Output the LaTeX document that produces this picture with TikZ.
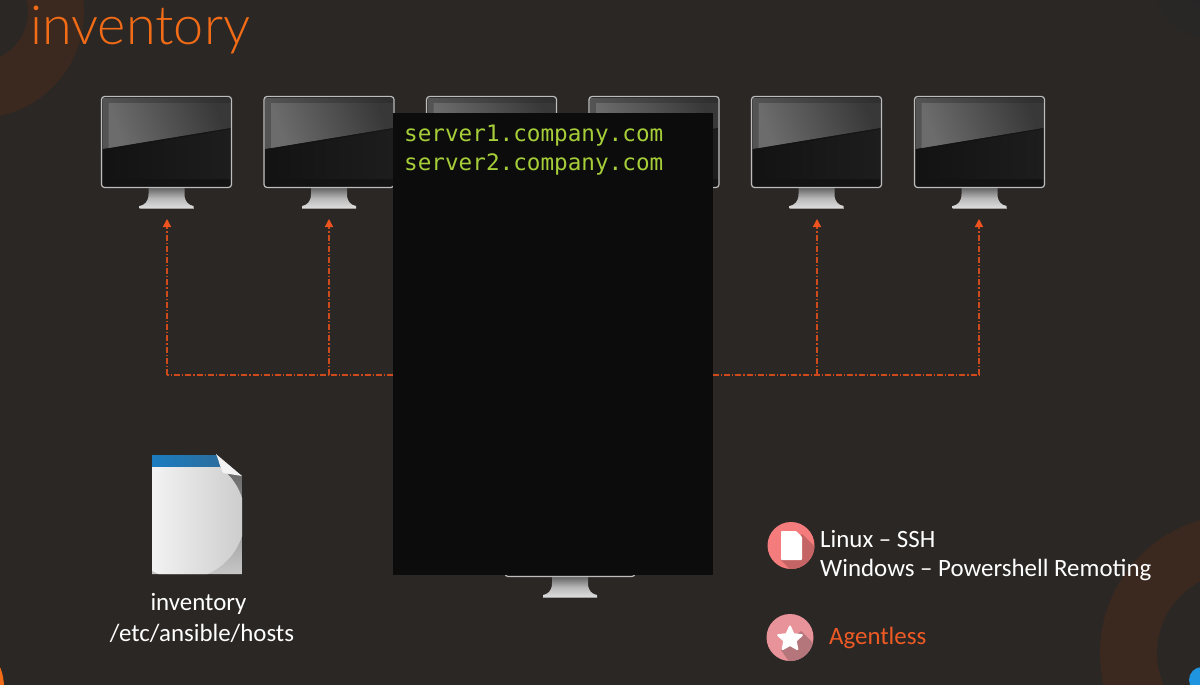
\documentclass[tikz,border=0pt]{standalone}
\usepackage{fontspec}
\setmainfont{Carlito}
\newfontfamily\termfont{DejaVu Sans Mono}
\newfontfamily\titlefont{Lato}[UprightFont=* Light]
\usetikzlibrary{arrows.meta,shapes.geometric,calc}
\definecolor{bgc}{HTML}{2B2725}
\definecolor{ringc}{HTML}{3B291F}
\definecolor{orangec}{HTML}{F26B16}
\definecolor{linec}{HTML}{CC4A1C}
\definecolor{tipc}{HTML}{F0541E}
\definecolor{termc}{HTML}{0C0C0C}
\definecolor{greenc}{HTML}{A6CE39}
\definecolor{agentc}{HTML}{EE5A24}
\definecolor{glareA}{HTML}{6C6C6C}
\definecolor{glareB}{HTML}{383838}
\definecolor{glareC}{HTML}{545454}
\definecolor{glareD}{HTML}{303030}
\definecolor{scrA}{HTML}{131313}
\definecolor{scrB}{HTML}{1D1D1D}
\definecolor{docbadge}{HTML}{F47C7C}
\definecolor{docshadow}{HTML}{C56464}
\definecolor{starbadge}{HTML}{E8929A}
\definecolor{starshadow}{HTML}{B5767B}
\definecolor{bluetab}{HTML}{1C7CC0}
\definecolor{bluetabB}{HTML}{2A6E9E}
\definecolor{dotblue}{HTML}{1F95DF}
\tikzset{
  x=1pt,y=-1pt,
  screenbox/.style={draw=white!74!black,line width=1.2pt,rounded corners=3pt,minimum width=130pt,minimum height=91pt,inner sep=0pt,outer sep=0pt},
  bus/.style={draw=linec,color=linec,line width=1.2pt,dash pattern=on 6pt off 2pt on 1.2pt off 2pt},
  tiparrow/.style={bus,-{Triangle[length=8pt,width=8pt,fill=tipc,color=tipc,sep=0pt]}},
  badge/.style={circle,minimum size=47pt,inner sep=0pt},
  sanslabel/.style={font=\fontsize{24.9}{31}\selectfont,inner sep=0pt},
  termline/.style={anchor=base west,inner sep=0pt,text=greenc,font=\termfont\fontsize{22.65}{24}\selectfont},
  monitor/.pic={
    \fill[rounded corners=2pt,scrA] (-64,-45) rectangle (64,45);
    \shade[left color=glareC,right color=glareD,shading angle=100] (-64,-44) -- (64,-44) -- (64,-15) -- (-64,7) -- cycle;
    \shade[left color=glareA,right color=glareB,shading angle=110] (-58,-39) -- (64,-39) -- (64,-14) -- (-58,6) -- cycle;
    \shade[left color=scrA,right color=scrB,shading angle=90] (-58,8) -- (64,-13) -- (64,37) -- (-58,37) -- cycle;
    \shade[top color=white!40!black,bottom color=white!88!black,middle color=white!72!black]
      (-18,46) -- (18,46) -- (18,52) .. controls (18,60) and (22,63) .. (27,64) -- (27,66.5) -- (-27,66.5) -- (-27,64) .. controls (-22,63) and (-18,60) .. (-18,52) -- cycle;
    \fill[white!62!black] (-27,65.8) rectangle (27,67);
  }
}
\begin{document}
\begin{tikzpicture}
\useasboundingbox (0,0) rectangle (1200,685);
\fill[bgc] (0,0) rectangle (1200,685);
% decorative rings and corner marks
\begin{scope}
\clip (0,0) rectangle (1200,685);
\fill[ringc,even odd rule] (-22,12) circle[radius=106pt] (-22,12) circle[radius=50pt];
\fill[ringc,even odd rule] (1238,653) circle[radius=138pt] (1238,653) circle[radius=81pt];
\shade[inner color=black!85,outer color=bgc] (1205,-15) circle[radius=75pt];
\fill[orangec] (-8,688) ellipse[x radius=12pt,y radius=28pt];
\fill[dotblue] (1202,680) circle[radius=13pt];
\end{scope}
% title
\node[text=orangec,font=\titlefont\fontsize{54}{54}\selectfont,anchor=base west,inner sep=0pt] (title) at (30,45) {inventory};
% monitors
\path (166.5,142) pic {monitor};
\node[screenbox] (m1) at (166.5,142) {};
\path (329,142) pic {monitor};
\node[screenbox] (m2) at (329,142) {};
\path (491.5,142) pic {monitor};
\node[screenbox] (m3) at (491.5,142) {};
\path (654,142) pic {monitor};
\node[screenbox] (m4) at (654,142) {};
\path (816.5,142) pic {monitor};
\node[screenbox] (m5) at (816.5,142) {};
\path (979.5,142) pic {monitor};
\node[screenbox] (m6) at (979.5,142) {};
\path (570,531) pic {monitor};
\node[screenbox] (m7) at (570,531) {};
% connectors
\coordinate (b1) at (167,375);
\coordinate (b2) at (329,375);
\coordinate (b5) at (817,375);
\coordinate (b6) at (979,375);
\coordinate (a1) at (167,219);
\coordinate (a2) at (329,219);
\coordinate (a5) at (817,219);
\coordinate (a6) at (979,219);
\coordinate (tl) at (393,375);
\coordinate (tr) at (713,375);
\draw[bus] (tl) -- (b2) -- (b1);
\draw[bus] (tr) -- (b5) -- (b6);
\draw[tiparrow] (b1) -- (a1);
\draw[tiparrow] (b2) -- (a2);
\draw[tiparrow] (b5) -- (a5);
\draw[tiparrow] (b6) -- (a6);
% terminal
\node[fill=termc,minimum width=320pt,minimum height=462pt,inner sep=0pt,outer sep=0pt] (term) at (553,344) {};
\node[termline] (s1) at (404,141) {server1.company.com};
\node[termline] (s2) at (404,170) {server2.company.com};
% file icon
\begin{scope}
\clip (152,455) -- (216,455) -- (242,476) -- (242,574) -- (152,574) -- cycle;
\shade[top color=white!35!black,bottom color=white!78!black] (152,455) rectangle (242,574);
\shade[left color=white,right color=white!80!black] (183,517) circle[radius=62pt];
\shade[left color=bluetab,right color=bluetabB] (152,455) rectangle (220,466);
\end{scope}
\fill[white!95!black] (216,454) -- (242,476) -- (223,473) .. controls (220,468) and (219,460) .. (216,454) -- cycle;
\node[text=white,sanslabel,align=center] (filelabel) at (202,618) {inventory\kern7pt\\/etc/ansible/hosts};
% badges
\node[badge,fill=docbadge] (bdoc) at (791,545.5) {};
\begin{scope}
\clip (791,545.5) circle[radius=23.5pt];
\fill[docshadow] (802,534) -- (832,564) -- (808,588) -- (781,560) -- cycle;
\end{scope}
\fill[white,rounded corners=.8pt] (781,531) -- (796,531) -- (802,537) -- (802,560) -- (781,560) -- cycle;
\node[badge,fill=starbadge] (bstar) at (790,637.5) {};
\begin{scope}
\clip (790,637.5) circle[radius=23.5pt];
\fill[starshadow] (801,631) -- (832,662) -- (806,686) -- (781,650) -- cycle;
\end{scope}
\node[star,star points=5,star point ratio=2.1,fill=white,draw=white,line join=round,line width=2pt,minimum size=25pt,inner sep=0pt] (starshape) at (790,639) {};
\node[text=white,sanslabel,anchor=base west] (rem1) at (820,547) {Linux – SSH};
\node[text=white,sanslabel,anchor=base west] (rem2) at (820,576) {Windows – Powershell Remoting};
\node[text=agentc,sanslabel,anchor=base west] (agent) at (829,644) {Agentless};
\end{tikzpicture}
\end{document}
